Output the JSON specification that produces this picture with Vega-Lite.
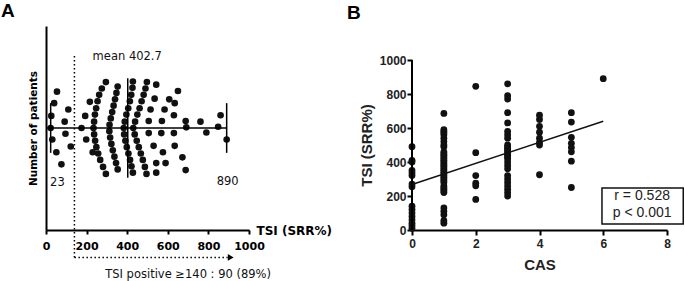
{
  "$schema": "https://vega.github.io/schema/vega-lite/v6.json",
  "padding": {"left": 1, "top": 2, "right": 0, "bottom": 0},
  "spacing": 15,
  "background": "white",
  "config": {"view": {"stroke": null}, "font": "Liberation Sans"},
  "datasets": {
    "swarm": [
      {"tsi": 23, "row": 0}, {"tsi": 26, "row": 1.9}, {"tsi": 40, "row": 3.9}, {"tsi": 54, "row": 5.7},
      {"tsi": 31, "row": -1.8}, {"tsi": 51, "row": -3.8}, {"tsi": 76, "row": -5.7}, {"tsi": 92, "row": 1.0},
      {"tsi": 96, "row": -0.9}, {"tsi": 110, "row": 2.9}, {"tsi": 122, "row": -2.9},
      {"tsi": 175, "row": 0}, {"tsi": 193, "row": 1.9}, {"tsi": 198, "row": -1.8}, {"tsi": 216, "row": 4.1}, {"tsi": 230, "row": -3.8},
      {"tsi": 295, "row": 7.2}, {"tsi": 275, "row": 6.2}, {"tsi": 262, "row": 5.2}, {"tsi": 254, "row": 4.2}, {"tsi": 247, "row": 3.1},
      {"tsi": 241, "row": 2.1}, {"tsi": 237, "row": 1.0}, {"tsi": 234, "row": 0}, {"tsi": 237, "row": -1.0}, {"tsi": 242, "row": -2.0},
      {"tsi": 248, "row": -3.0}, {"tsi": 257, "row": -4.0}, {"tsi": 267, "row": -5.0}, {"tsi": 281, "row": -6.1}, {"tsi": 295, "row": -7.2},
      {"tsi": 353, "row": 6.5}, {"tsi": 347, "row": 5.5}, {"tsi": 340, "row": 4.5}, {"tsi": 333, "row": 3.5}, {"tsi": 326, "row": 2.5},
      {"tsi": 319, "row": 1.5}, {"tsi": 313, "row": 0.5}, {"tsi": 312, "row": -0.5}, {"tsi": 316, "row": -1.5}, {"tsi": 322, "row": -2.5},
      {"tsi": 329, "row": -3.5}, {"tsi": 337, "row": -4.5}, {"tsi": 345, "row": -5.5}, {"tsi": 353, "row": -6.5},
      {"tsi": 428, "row": 7.3}, {"tsi": 426, "row": 6.3}, {"tsi": 420, "row": 5.2}, {"tsi": 413, "row": 4.2}, {"tsi": 405, "row": 3.1},
      {"tsi": 396, "row": 2.1}, {"tsi": 388, "row": 1.0}, {"tsi": 383, "row": 0}, {"tsi": 385, "row": -1.0}, {"tsi": 391, "row": -2.0},
      {"tsi": 398, "row": -3.0}, {"tsi": 406, "row": -4.0}, {"tsi": 414, "row": -5.0}, {"tsi": 421, "row": -6.0}, {"tsi": 428, "row": -7.0},
      {"tsi": 497, "row": 7.2}, {"tsi": 490, "row": 6.2}, {"tsi": 481, "row": 5.2}, {"tsi": 471, "row": 4.2}, {"tsi": 461, "row": 3.1},
      {"tsi": 450, "row": 2.1}, {"tsi": 439, "row": 1.0}, {"tsi": 430, "row": 0}, {"tsi": 437, "row": -1.0}, {"tsi": 447, "row": -2.0},
      {"tsi": 457, "row": -3.0}, {"tsi": 467, "row": -4.0}, {"tsi": 477, "row": -5.0}, {"tsi": 487, "row": -6.1}, {"tsi": 495, "row": -7.2},
      {"tsi": 543, "row": 6.8}, {"tsi": 650, "row": 5.8}, {"tsi": 535, "row": 4.6}, {"tsi": 607, "row": 4.5}, {"tsi": 634, "row": 3.9},
      {"tsi": 515, "row": 2.9}, {"tsi": 584, "row": 2.9}, {"tsi": 630, "row": 2.0}, {"tsi": 506, "row": 1.1}, {"tsi": 571, "row": 1.1},
      {"tsi": 688, "row": 1.1}, {"tsi": 761, "row": 1.0}, {"tsi": 860, "row": 2.0}, {"tsi": 691, "row": 0.1}, {"tsi": 848, "row": 0.2},
      {"tsi": 506, "row": -0.8}, {"tsi": 568, "row": -0.8}, {"tsi": 630, "row": -0.8}, {"tsi": 790, "row": -0.7}, {"tsi": 890, "row": -1.8},
      {"tsi": 530, "row": -2.8}, {"tsi": 634, "row": -2.8}, {"tsi": 576, "row": -3.8}, {"tsi": 672, "row": -4.6}, {"tsi": 543, "row": -5.5},
      {"tsi": 589, "row": -5.5}, {"tsi": 543, "row": -7.0}, {"tsi": 688, "row": -6.6}
    ],
    "cas": [
      {"cas": 0, "tsi": 490}, {"cas": 0, "tsi": 410}, {"cas": 0, "tsi": 400}, {"cas": 0, "tsi": 350}, {"cas": 0, "tsi": 335},
      {"cas": 0, "tsi": 320}, {"cas": 0, "tsi": 270}, {"cas": 0, "tsi": 255}, {"cas": 0, "tsi": 140}, {"cas": 0, "tsi": 120},
      {"cas": 0, "tsi": 100}, {"cas": 0, "tsi": 80}, {"cas": 0, "tsi": 60}, {"cas": 0, "tsi": 40}, {"cas": 0, "tsi": 25}, {"cas": 0, "tsi": 10},
      {"cas": 1, "tsi": 686}, {"cas": 1, "tsi": 590}, {"cas": 1, "tsi": 580}, {"cas": 1, "tsi": 570}, {"cas": 1, "tsi": 560},
      {"cas": 1, "tsi": 540}, {"cas": 1, "tsi": 520}, {"cas": 1, "tsi": 500}, {"cas": 1, "tsi": 490}, {"cas": 1, "tsi": 460},
      {"cas": 1, "tsi": 450}, {"cas": 1, "tsi": 440}, {"cas": 1, "tsi": 430}, {"cas": 1, "tsi": 420}, {"cas": 1, "tsi": 410},
      {"cas": 1, "tsi": 400}, {"cas": 1, "tsi": 390}, {"cas": 1, "tsi": 380}, {"cas": 1, "tsi": 370}, {"cas": 1, "tsi": 360},
      {"cas": 1, "tsi": 350}, {"cas": 1, "tsi": 340}, {"cas": 1, "tsi": 330}, {"cas": 1, "tsi": 320}, {"cas": 1, "tsi": 310},
      {"cas": 1, "tsi": 300}, {"cas": 1, "tsi": 290}, {"cas": 1, "tsi": 280}, {"cas": 1, "tsi": 260}, {"cas": 1, "tsi": 250},
      {"cas": 1, "tsi": 240}, {"cas": 1, "tsi": 230}, {"cas": 1, "tsi": 220}, {"cas": 1, "tsi": 130}, {"cas": 1, "tsi": 110},
      {"cas": 1, "tsi": 90}, {"cas": 1, "tsi": 55}, {"cas": 1, "tsi": 40},
      {"cas": 2, "tsi": 845}, {"cas": 2, "tsi": 455}, {"cas": 2, "tsi": 320}, {"cas": 2, "tsi": 275}, {"cas": 2, "tsi": 260}, {"cas": 2, "tsi": 180},
      {"cas": 3, "tsi": 860}, {"cas": 3, "tsi": 790}, {"cas": 3, "tsi": 770}, {"cas": 3, "tsi": 690}, {"cas": 3, "tsi": 630},
      {"cas": 3, "tsi": 580}, {"cas": 3, "tsi": 560}, {"cas": 3, "tsi": 540}, {"cas": 3, "tsi": 500}, {"cas": 3, "tsi": 490},
      {"cas": 3, "tsi": 480}, {"cas": 3, "tsi": 470}, {"cas": 3, "tsi": 460}, {"cas": 3, "tsi": 450}, {"cas": 3, "tsi": 440},
      {"cas": 3, "tsi": 430}, {"cas": 3, "tsi": 420}, {"cas": 3, "tsi": 400}, {"cas": 3, "tsi": 380}, {"cas": 3, "tsi": 360},
      {"cas": 3, "tsi": 320}, {"cas": 3, "tsi": 300}, {"cas": 3, "tsi": 280}, {"cas": 3, "tsi": 260}, {"cas": 3, "tsi": 240},
      {"cas": 3, "tsi": 220}, {"cas": 3, "tsi": 200},
      {"cas": 4, "tsi": 675}, {"cas": 4, "tsi": 650}, {"cas": 4, "tsi": 610}, {"cas": 4, "tsi": 575}, {"cas": 4, "tsi": 540},
      {"cas": 4, "tsi": 515}, {"cas": 4, "tsi": 500}, {"cas": 4, "tsi": 325},
      {"cas": 5, "tsi": 690}, {"cas": 5, "tsi": 635}, {"cas": 5, "tsi": 545}, {"cas": 5, "tsi": 510}, {"cas": 5, "tsi": 485},
      {"cas": 5, "tsi": 460}, {"cas": 5, "tsi": 405}, {"cas": 5, "tsi": 250},
      {"cas": 6, "tsi": 890}
    ],
    "fit": [{"cas": 0, "tsi": 268}, {"cas": 6, "tsi": 640}],
    "one": [{}]
  },
  "hconcat": [
    {
      "width": 203,
      "height": 204,
      "title": {"text": "A", "anchor": "start", "frame": "bounds", "font": "Liberation Sans", "fontSize": 19, "fontWeight": "bold", "color": "#000", "dx": -27, "offset": 5},
      "layer": [
        {
          "data": {"name": "swarm"},
          "mark": {"type": "circle", "size": 44, "opacity": 1, "color": "#111"},
          "encoding": {
            "x": {"field": "tsi", "type": "quantitative",
              "scale": {"domain": [0, 1000], "nice": false, "zero": false},
              "axis": {"title": "TSI (SRR%)", "values": [0, 200, 400, 600, 800, 1000], "format": "d", "grid": false,
                "domainColor": "#000", "domainWidth": 2, "tickColor": "#000", "tickWidth": 2, "tickSize": 4,
                "labelFont": "DejaVu Sans", "labelFontSize": 11, "labelFontWeight": "bold", "labelColor": "#000", "labelPadding": 6,
                "labelFlush": false, "labelOverlap": false,
                "titleFont": "DejaVu Sans", "titleFontSize": 12, "titleFontWeight": "bold", "titleColor": "#000",
                "titleX": 210, "titleY": 0, "titleAlign": "left", "titleBaseline": "middle", "titleAngle": 0}},
            "y": {"field": "row", "type": "quantitative",
              "scale": {"domain": [-16, 16], "nice": false, "zero": false},
              "axis": {"title": "Number of patients", "ticks": false, "labels": false, "grid": false,
                "domainColor": "#000", "domainWidth": 2,
                "titleFont": "DejaVu Sans", "titleFontSize": 10.5, "titleFontWeight": "bold", "titleColor": "#000", "titlePadding": 8}}
          }
        },
        {"data": {"name": "one"}, "mark": {"type": "rule", "color": "#000", "strokeWidth": 1.5},
          "encoding": {"x": {"datum": 0}, "x2": {"datum": 890}, "y": {"datum": 0}}},
        {"data": {"name": "one"}, "mark": {"type": "rule", "color": "#000", "strokeWidth": 1.5},
          "encoding": {"x": {"datum": 23}, "y": {"datum": -3.9}, "y2": {"datum": 3.9}}},
        {"data": {"name": "one"}, "mark": {"type": "rule", "color": "#000", "strokeWidth": 1.5},
          "encoding": {"x": {"datum": 890}, "y": {"datum": -3.9}, "y2": {"datum": 3.9}}},
        {"data": {"name": "one"}, "mark": {"type": "rule", "color": "#000", "strokeWidth": 1.5},
          "encoding": {"x": {"datum": 402.7}, "y": {"datum": -7.8}, "y2": {"datum": 7.8}}},
        {"data": {"name": "one"}, "mark": {"type": "rule", "color": "#000", "strokeWidth": 1.5, "strokeDash": [1.5, 2.5]},
          "encoding": {"x": {"datum": 140}, "y": {"datum": -20.3}, "y2": {"datum": 11.3}}},
        {"data": {"name": "one"}, "mark": {"type": "rule", "color": "#000", "strokeWidth": 1.5, "strokeDash": [1.5, 2.5]},
          "encoding": {"x": {"datum": 140}, "x2": {"datum": 895}, "y": {"datum": -20.3}}},
        {"data": {"name": "one"}, "mark": {"type": "point", "shape": "triangle-right", "filled": true, "color": "#000", "size": 45, "opacity": 1},
          "encoding": {"x": {"datum": 910}, "y": {"datum": -20.3}}},
        {"data": {"name": "one"}, "mark": {"type": "text", "font": "DejaVu Sans", "fontSize": 11.5, "color": "#111", "align": "center", "baseline": "middle"},
          "encoding": {"x": {"datum": 400}, "y": {"datum": 11.2}, "text": {"value": "mean 402.7"}}},
        {"data": {"name": "one"}, "mark": {"type": "text", "font": "DejaVu Sans", "fontSize": 11.5, "color": "#111", "align": "left", "baseline": "middle"},
          "encoding": {"x": {"datum": 20}, "y": {"datum": -8.6}, "text": {"value": "23"}}},
        {"data": {"name": "one"}, "mark": {"type": "text", "font": "DejaVu Sans", "fontSize": 11.5, "color": "#111", "align": "center", "baseline": "middle"},
          "encoding": {"x": {"datum": 895}, "y": {"datum": -8.4}, "text": {"value": "890"}}},
        {"data": {"name": "one"}, "mark": {"type": "text", "font": "DejaVu Sans", "fontSize": 11.5, "color": "#111", "align": "center", "baseline": "middle"},
          "encoding": {"x": {"datum": 700}, "y": {"datum": -23}, "text": {"value": "TSI positive ≥140 : 90 (89%)"}}}
      ]
    },
    {
      "width": 255,
      "height": 204,
      "title": {"text": "B", "anchor": "start", "frame": "bounds", "font": "Liberation Sans", "fontSize": 19, "fontWeight": "bold", "color": "#000", "dx": -12, "offset": 3},
      "layer": [
        {
          "data": {"name": "cas"},
          "mark": {"type": "circle", "size": 46, "opacity": 1, "color": "#111"},
          "encoding": {
            "x": {"field": "cas", "type": "quantitative",
              "scale": {"domain": [0, 8], "nice": false},
              "axis": {"title": "CAS", "values": [0, 2, 4, 6, 8], "grid": false,
                "domainColor": "#000", "domainWidth": 2, "tickColor": "#000", "tickWidth": 2, "tickSize": 5,
                "labelFont": "Liberation Sans", "labelFontSize": 12, "labelFontWeight": "bold", "labelColor": "#222", "labelPadding": 3,
                "labelFlush": false, "labelOverlap": false,
                "titleFont": "Liberation Sans", "titleFontSize": 15, "titleFontWeight": "bold", "titleColor": "#222", "titlePadding": 8}},
            "y": {"field": "tsi", "type": "quantitative",
              "scale": {"domain": [0, 1200], "nice": false},
              "axis": {"title": "TSI (SRR%)", "values": [0, 200, 400, 600, 800, 1000], "format": "d", "grid": false, "domain": false,
                "tickColor": "#000", "tickWidth": 2, "tickSize": 5,
                "labelFont": "Liberation Sans", "labelFontSize": 12, "labelFontWeight": "bold", "labelColor": "#222", "labelPadding": 1,
                "labelFlush": false, "labelOverlap": false,
                "titleFont": "Liberation Sans", "titleFontSize": 15, "titleFontWeight": "bold", "titleColor": "#222",
                "titleX": -46, "titleY": 119, "titleAngle": 270, "titleAlign": "center", "titleBaseline": "middle"}}
          }
        },
        {"data": {"name": "one"}, "mark": {"type": "rule", "color": "#000", "strokeWidth": 2},
          "encoding": {"x": {"datum": 0}, "y": {"datum": 0}, "y2": {"datum": 1000}}},
        {
          "data": {"name": "fit"},
          "mark": {"type": "line", "color": "#111", "strokeWidth": 1.5},
          "encoding": {"x": {"field": "cas", "type": "quantitative"}, "y": {"field": "tsi", "type": "quantitative"}}
        },
        {"data": {"name": "one"}, "mark": {"type": "rect", "fill": "white", "stroke": "#111", "strokeWidth": 1.5},
          "encoding": {"x": {"datum": 5.96}, "x2": {"datum": 8.51}, "y": {"datum": 35}, "y2": {"datum": 247}}},
        {"data": {"name": "one"}, "mark": {"type": "text", "font": "Liberation Sans", "fontSize": 14, "color": "#222", "align": "center", "baseline": "middle", "lineHeight": 16.5},
          "encoding": {"x": {"datum": 7.22}, "y": {"datum": 200}, "text": {"value": ["r = 0.528", "p < 0.001"]}}}
      ]
    }
  ]
}
